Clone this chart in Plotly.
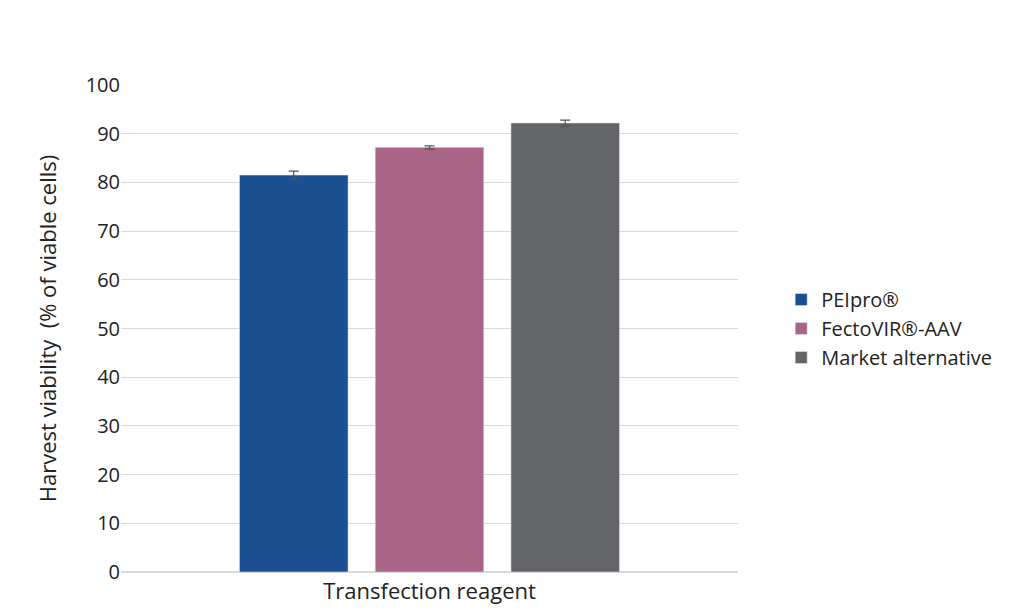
import plotly.graph_objects as go

category = ["Transfection reagent"]
series = ["PEIpro®", "FectoVIR®-AAV", "Market alternative"]
values = [81.5, 87.2, 92.2]
errors = [0.8, 0.3, 0.6]
colors = ["#1c4f91", "#aa6487", "#646569"]

fig = go.Figure()
for name, v, e, c in zip(series, values, errors, colors):
    fig.add_trace(go.Bar(x=category, y=[v], name=name, marker_color=c,
                         error_y=dict(type="data", array=[e], color="#555555", thickness=1.2, width=5)))

fig.update_layout(
    width=1024, height=612, barmode="group", bargap=0.34, bargroupgap=0.2,
    plot_bgcolor="white", paper_bgcolor="white",
    margin=dict(l=113, r=294, t=77, b=48, autoexpand=False),
    font=dict(family="Open Sans", size=20, color="#222222"),
    yaxis=dict(range=[0, 100], dtick=10, showgrid=True, gridcolor="#d9d9d9",
               title=dict(text="Harvest viability  (% of viable cells)", font=dict(size=22), standoff=22),
               ticks="", zeroline=True, zerolinecolor="#d9d9d9", automargin=False),
    xaxis=dict(showline=True, linecolor="#d9d9d9", tickfont=dict(size=22), automargin=False),
    legend=dict(x=1.07, y=0.5, yanchor="middle", font=dict(size=20), tracegroupgap=14),
)
fig.write_html("out.html")
